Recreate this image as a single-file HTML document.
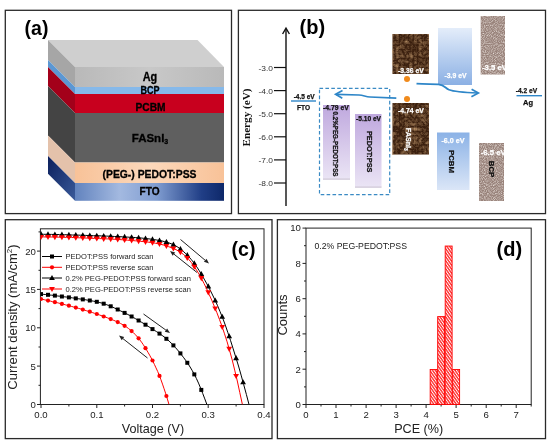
<!DOCTYPE html>
<html><head><meta charset="utf-8"><title>Figure</title>
<style>
html,body{margin:0;padding:0;background:#fff;}
svg{display:block;font-family:"Liberation Sans",sans-serif;filter:blur(0.45px);}
</style></head><body>
<svg width="550" height="448" viewBox="0 0 550 448">
<defs>
<clipPath id="clipc"><rect x="40.4" y="225" width="224" height="179.5"/></clipPath>
<clipPath id="clipbcp1"><rect x="480.7" y="16" width="24.3" height="58.5"/></clipPath>
<clipPath id="clipbcp2"><rect x="479" y="143" width="25" height="58"/></clipPath>
<pattern id="hatch" width="2.3" height="2.3" patternUnits="userSpaceOnUse" patternTransform="rotate(55)">
<rect width="2.3" height="2.3" fill="#fff"/><rect width="2.3" height="1.35" fill="#ff2a2a"/></pattern>
<linearGradient id="gag" x1="0" x2="1" y1="0" y2="0"><stop offset="0" stop-color="#b9b9b9"/><stop offset="0.5" stop-color="#c8c8c8"/><stop offset="1" stop-color="#b9b9b9"/></linearGradient>
<linearGradient id="gped" x1="0" x2="1" y1="0" y2="0"><stop offset="0" stop-color="#f8c298"/><stop offset="0.5" stop-color="#fcd8bb"/><stop offset="1" stop-color="#f8c298"/></linearGradient>
<linearGradient id="gfto" x1="0" x2="1" y1="0" y2="0"><stop offset="0" stop-color="#6283be"/><stop offset="0.3" stop-color="#a3b9e0"/><stop offset="0.55" stop-color="#7f9cd0"/><stop offset="0.85" stop-color="#203e86"/><stop offset="1" stop-color="#0e2869"/></linearGradient>
<linearGradient id="gftol" x1="0" x2="1" y1="0" y2="1"><stop offset="0" stop-color="#0b1f5c"/><stop offset="1" stop-color="#3a5a9a"/></linearGradient>
<linearGradient id="gpur" x1="0" x2="0" y1="0" y2="1"><stop offset="0" stop-color="#bfa8de"/><stop offset="1" stop-color="#ebe5f5"/></linearGradient>
<linearGradient id="gblu1" x1="0" x2="0" y1="0" y2="1"><stop offset="0" stop-color="#e4edfa"/><stop offset="1" stop-color="#8bb0e4"/></linearGradient>
<linearGradient id="gblu2" x1="0" x2="0" y1="0" y2="1"><stop offset="0" stop-color="#8bb2e6"/><stop offset="1" stop-color="#dbe6f7"/></linearGradient>
<filter id="brown" x="0" y="0" width="1" height="1"><feTurbulence type="turbulence" baseFrequency="0.22" numOctaves="3" seed="4"/><feColorMatrix type="matrix" values="0 0 0 0 0.52  0 0 0 0 0.31  0 0 0 0 0.15  0.9 0.7 0 0 -0.25"/></filter>
<filter id="speck" x="0" y="0" width="1" height="1"><feTurbulence type="fractalNoise" baseFrequency="0.9" numOctaves="1" seed="7"/><feColorMatrix type="matrix" values="0 0 0 0 0.86  0 0 0 0 0.80  0 0 0 0 0.76  2.0 0 0 0 -0.8"/></filter>
</defs>
<rect width="550" height="448" fill="#fff"/>
<g id="panel-a">
<rect x="5.3" y="10.3" width="226.2" height="203.3" fill="#fff" stroke="#2a2a2a" stroke-width="1.3"/>
<path d="M75,67 L48,40 L197.5,40 L224,67Z" fill="#cfcfcf"/>
<rect x="75" y="67" width="149" height="20" fill="url(#gag)"/>
<path d="M75,67 L48,40 L48,60 L75,87Z" fill="#a6a6a6"/>
<rect x="75" y="87" width="149" height="7" fill="#86b9ea"/>
<path d="M75,87 L48,60 L48,67 L75,94Z" fill="#5b97d3"/>
<rect x="75" y="94" width="149" height="19" fill="#c8001e"/>
<path d="M75,94 L48,67 L48,86 L75,113Z" fill="#a3001a"/>
<rect x="75" y="113" width="149" height="49.5" fill="#5f5f5f"/>
<path d="M75,113 L48,86 L48,135.5 L75,162.5Z" fill="#444444"/>
<rect x="75" y="162.5" width="149" height="20.5" fill="url(#gped)"/>
<path d="M75,162.5 L48,135.5 L48,156 L75,183Z" fill="#e4c2ab"/>
<rect x="75" y="183" width="149" height="17.80000000000001" fill="url(#gfto)"/>
<path d="M75,183 L48,156 L48,173.8 L75,200.8Z" fill="url(#gftol)"/>
<text x="150" y="80.5" text-anchor="middle" font-size="12.5" font-weight="bold" fill="#000" stroke="#000" stroke-width="0.3" textLength="14.5" lengthAdjust="spacingAndGlyphs">Ag</text>
<text x="150" y="93.5" text-anchor="middle" font-size="10" font-weight="bold" fill="#000" stroke="#000" stroke-width="0.3" textLength="19" lengthAdjust="spacingAndGlyphs">BCP</text>
<text x="150.5" y="111" text-anchor="middle" font-size="10.5" font-weight="bold" fill="#000" stroke="#000" stroke-width="0.3" textLength="30" lengthAdjust="spacingAndGlyphs">PCBM</text>
<text x="150" y="141.5" text-anchor="middle" font-size="11.5" font-weight="bold" fill="#000" stroke="#000" stroke-width="0.3">FASnI<tspan font-size="7" dy="2.5">3</tspan></text>
<text x="149.5" y="177.5" text-anchor="middle" font-size="11.5" font-weight="bold" fill="#000" stroke="#000" stroke-width="0.3" textLength="94" lengthAdjust="spacingAndGlyphs">(PEG-) PEDOT:PSS</text>
<text x="149.5" y="195" text-anchor="middle" font-size="11.5" font-weight="bold" fill="#000" stroke="#000" stroke-width="0.3" textLength="20" lengthAdjust="spacingAndGlyphs">FTO</text>
<text x="36.5" y="34.5" text-anchor="middle" font-size="19.5" font-weight="bold" fill="#000">(a)</text>
</g>
<g id="panel-b">
<rect x="238.4" y="10.3" width="307.1" height="203.3" fill="#fff" stroke="#2a2a2a" stroke-width="1.3"/>
<line x1="286" y1="29" x2="286" y2="206" stroke="#111" stroke-width="1.4"/>
<path d="M282.6,34 L286,28.2 L289.4,34" fill="none" stroke="#111" stroke-width="1.4" stroke-linejoin="miter"/>
<line x1="274" y1="67.5" x2="286" y2="67.5" stroke="#111" stroke-width="1.2"/>
<text x="273" y="70.6" text-anchor="end" font-size="7.8" fill="#333" textLength="14.5" lengthAdjust="spacingAndGlyphs">-3.0</text>
<line x1="274" y1="90.6" x2="286" y2="90.6" stroke="#111" stroke-width="1.2"/>
<text x="273" y="93.7" text-anchor="end" font-size="7.8" fill="#333" textLength="14.5" lengthAdjust="spacingAndGlyphs">-4.0</text>
<line x1="274" y1="113.7" x2="286" y2="113.7" stroke="#111" stroke-width="1.2"/>
<text x="273" y="116.8" text-anchor="end" font-size="7.8" fill="#333" textLength="14.5" lengthAdjust="spacingAndGlyphs">-5.0</text>
<line x1="274" y1="136.8" x2="286" y2="136.8" stroke="#111" stroke-width="1.2"/>
<text x="273" y="139.9" text-anchor="end" font-size="7.8" fill="#333" textLength="14.5" lengthAdjust="spacingAndGlyphs">-6.0</text>
<line x1="274" y1="159.9" x2="286" y2="159.9" stroke="#111" stroke-width="1.2"/>
<text x="273" y="163.0" text-anchor="end" font-size="7.8" fill="#333" textLength="14.5" lengthAdjust="spacingAndGlyphs">-7.0</text>
<line x1="274" y1="183.0" x2="286" y2="183.0" stroke="#111" stroke-width="1.2"/>
<text x="273" y="186.1" text-anchor="end" font-size="7.8" fill="#333" textLength="14.5" lengthAdjust="spacingAndGlyphs">-8.0</text>
<text transform="translate(250.3,117.5) rotate(-90)" text-anchor="middle" font-size="11" font-weight="bold" font-family="'Liberation Serif',serif" fill="#111" textLength="58" lengthAdjust="spacingAndGlyphs">Energy (eV)</text>
<line x1="291" y1="101" x2="316" y2="101" stroke="#2e86c8" stroke-width="1.4"/>
<text x="293.7" y="99" font-size="7.2" font-weight="bold" fill="#111" stroke="#111" stroke-width="0.25" text-anchor="start" textLength="21" lengthAdjust="spacingAndGlyphs">-4.5 eV</text>
<text x="297" y="110" font-size="7.2" font-weight="bold" fill="#111" stroke="#111" stroke-width="0.25" text-anchor="start" textLength="13" lengthAdjust="spacingAndGlyphs">FTO</text>
<line x1="516.5" y1="95.7" x2="542" y2="95.7" stroke="#2e86c8" stroke-width="1.4"/>
<text x="515.7" y="93.3" font-size="7.2" font-weight="bold" fill="#111" stroke="#111" stroke-width="0.25" text-anchor="start" textLength="21.5" lengthAdjust="spacingAndGlyphs">-4.2 eV</text>
<text x="523" y="105.3" font-size="7.2" font-weight="bold" fill="#111" stroke="#111" stroke-width="0.25" text-anchor="start" textLength="10" lengthAdjust="spacingAndGlyphs">Ag</text>
<rect x="319.5" y="88.4" width="70.2" height="106.3" fill="none" stroke="#3a8ac4" stroke-width="1.2" stroke-dasharray="3.6,2.3"/>
<rect x="323" y="105" width="27" height="74.5" fill="url(#gpur)"/>
<rect x="323" y="178.5" width="27" height="1.2" fill="#cfc8d6"/>
<rect x="355" y="114" width="26.5" height="73.5" fill="url(#gpur)"/>
<rect x="355" y="186.5" width="26.5" height="1.2" fill="#cfc8d6"/>
<text x="323" y="109.6" font-size="7.2" font-weight="bold" fill="#111" stroke="#111" stroke-width="0.25" text-anchor="start" textLength="25.7" lengthAdjust="spacingAndGlyphs">-4.79 eV</text>
<text x="356" y="121.3" font-size="7.2" font-weight="bold" fill="#111" stroke="#111" stroke-width="0.25" text-anchor="start" textLength="25" lengthAdjust="spacingAndGlyphs">-5.10 eV</text>
<text transform="translate(332.5,144) rotate(90)" text-anchor="middle" font-size="6.3" font-weight="bold" fill="#111" stroke="#111" stroke-width="0.25" textLength="65" lengthAdjust="spacingAndGlyphs">0.2%PEG-PEDOT:PSS</text>
<text transform="translate(366.8,151.7) rotate(90)" text-anchor="middle" font-size="8" font-weight="bold" fill="#111" stroke="#111" stroke-width="0.25" textLength="41.5" lengthAdjust="spacingAndGlyphs">PEDOT:PSS</text>
<rect x="392.5" y="34" width="36.5" height="40" fill="#3a1f0e"/>
<rect x="392.5" y="34" width="36.5" height="40" filter="url(#brown)"/>
<rect x="392.5" y="103" width="36.5" height="51.5" fill="#3a1f0e"/>
<rect x="392.5" y="103" width="36.5" height="51.5" filter="url(#brown)"/>
<text x="398" y="72.6" font-size="7.2" font-weight="bold" fill="#fff" stroke="#fff" stroke-width="0.25" text-anchor="start" textLength="25.7" lengthAdjust="spacingAndGlyphs">-3.36 eV</text>
<text x="398" y="112.6" font-size="7.2" font-weight="bold" fill="#fff" stroke="#fff" stroke-width="0.25" text-anchor="start" textLength="25.7" lengthAdjust="spacingAndGlyphs">-4.74 eV</text>
<text transform="translate(405.5,139.3) rotate(90)" text-anchor="middle" font-size="7.3" font-weight="bold" fill="#fff" stroke="#fff" stroke-width="0.25" textLength="23" lengthAdjust="spacingAndGlyphs">FASnI<tspan font-size="5" dy="1.5">3</tspan></text>
<circle cx="407" cy="79" r="3" fill="#f08a1c"/>
<circle cx="407" cy="99" r="3" fill="#f08a1c"/>
<rect x="438" y="28" width="34" height="57" fill="url(#gblu1)"/>
<rect x="437" y="132.5" width="32.5" height="57.5" fill="url(#gblu2)"/>
<text x="444.5" y="77.6" font-size="7.2" font-weight="bold" fill="#fff" stroke="#fff" stroke-width="0.25" text-anchor="start" textLength="22" lengthAdjust="spacingAndGlyphs">-3.9 eV</text>
<text x="441.5" y="143.3" font-size="7.2" font-weight="bold" fill="#fff" stroke="#fff" stroke-width="0.25" text-anchor="start" textLength="23" lengthAdjust="spacingAndGlyphs">-6.0 eV</text>
<text transform="translate(449.3,161.5) rotate(90)" text-anchor="middle" font-size="8" font-weight="bold" fill="#111" stroke="#111" stroke-width="0.25" textLength="23" lengthAdjust="spacingAndGlyphs">PCBM</text>
<rect x="480.7" y="16" width="24.3" height="58.5" fill="#98827a"/>
<rect x="480.7" y="16" width="24.3" height="58.5" filter="url(#speck)"/>
<rect x="479" y="143" width="25" height="58" fill="#98827a"/>
<rect x="479" y="143" width="25" height="58" filter="url(#speck)"/>
<g clip-path="url(#clipbcp1)"><text x="482" y="69.6" font-size="7.2" font-weight="bold" fill="#fff" stroke="#fff" stroke-width="0.25" text-anchor="start" textLength="25" lengthAdjust="spacingAndGlyphs">-3.5 eV</text></g>
<g clip-path="url(#clipbcp2)"><text x="480.7" y="154.6" font-size="7.2" font-weight="bold" fill="#fff" stroke="#fff" stroke-width="0.25" text-anchor="start" textLength="25" lengthAdjust="spacingAndGlyphs">-6.5 eV</text></g>
<text transform="translate(488.7,169) rotate(90)" text-anchor="middle" font-size="8" font-weight="bold" fill="#111" stroke="#111" stroke-width="0.25" textLength="16.5" lengthAdjust="spacingAndGlyphs">BCP</text>
<path d="M396.3,98.2 L370,97 C365.5,96.7 363.5,95.3 359,95 L336.2,94.3" fill="none" stroke="#2e86c8" stroke-width="1.7"/>
<path d="M342.5,90.6 L335.6,94.3 L342.3,98.2" fill="none" stroke="#2e86c8" stroke-width="1.7" stroke-linejoin="miter"/>
<path d="M416.5,83.6 C425,84.4 432,83.9 438.5,84.4 C445,85 445,88.2 449,89.8 C455,92.2 466,92.6 477.5,93" fill="none" stroke="#2e86c8" stroke-width="1.7"/>
<path d="M471.6,89.2 L478.4,93 L471.4,96.8" fill="none" stroke="#2e86c8" stroke-width="1.7" stroke-linejoin="miter"/>
<text x="312.3" y="33.5" text-anchor="middle" font-size="20" font-weight="bold" fill="#000">(b)</text>
</g>
<g id="panel-c">
<rect x="5.3" y="219.7" width="266.7" height="218.9" fill="#fff" stroke="#2a2a2a" stroke-width="1.3"/>
<rect x="40.4" y="228.8" width="223.6" height="175.7" fill="none" stroke="#222" stroke-width="1"/>
<line x1="37" y1="404.5" x2="40.5" y2="404.5" stroke="#222" stroke-width="1"/>
<text x="35.9" y="408.0" text-anchor="end" font-size="9.6" fill="#222">0</text>
<line x1="37" y1="366.1" x2="40.5" y2="366.1" stroke="#222" stroke-width="1"/>
<text x="35.9" y="369.6" text-anchor="end" font-size="9.6" fill="#222">5</text>
<line x1="37" y1="327.8" x2="40.5" y2="327.8" stroke="#222" stroke-width="1"/>
<text x="35.9" y="331.3" text-anchor="end" font-size="9.6" fill="#222">10</text>
<line x1="37" y1="289.4" x2="40.5" y2="289.4" stroke="#222" stroke-width="1"/>
<text x="35.9" y="292.9" text-anchor="end" font-size="9.6" fill="#222">15</text>
<line x1="37" y1="251.1" x2="40.5" y2="251.1" stroke="#222" stroke-width="1"/>
<text x="35.9" y="254.6" text-anchor="end" font-size="9.6" fill="#222">20</text>
<line x1="38.5" y1="385.3" x2="40.5" y2="385.3" stroke="#222" stroke-width="1"/>
<line x1="38.5" y1="347.0" x2="40.5" y2="347.0" stroke="#222" stroke-width="1"/>
<line x1="38.5" y1="308.6" x2="40.5" y2="308.6" stroke="#222" stroke-width="1"/>
<line x1="38.5" y1="270.3" x2="40.5" y2="270.3" stroke="#222" stroke-width="1"/>
<line x1="38.5" y1="231.9" x2="40.5" y2="231.9" stroke="#222" stroke-width="1"/>
<line x1="41.0" y1="404.5" x2="41.0" y2="408" stroke="#222" stroke-width="1"/>
<text x="41.0" y="418" text-anchor="middle" font-size="9.6" fill="#222">0.0</text>
<line x1="96.8" y1="404.5" x2="96.8" y2="408" stroke="#222" stroke-width="1"/>
<text x="96.8" y="418" text-anchor="middle" font-size="9.6" fill="#222">0.1</text>
<line x1="152.5" y1="404.5" x2="152.5" y2="408" stroke="#222" stroke-width="1"/>
<text x="152.5" y="418" text-anchor="middle" font-size="9.6" fill="#222">0.2</text>
<line x1="208.2" y1="404.5" x2="208.2" y2="408" stroke="#222" stroke-width="1"/>
<text x="208.2" y="418" text-anchor="middle" font-size="9.6" fill="#222">0.3</text>
<line x1="264.0" y1="404.5" x2="264.0" y2="408" stroke="#222" stroke-width="1"/>
<text x="264.0" y="418" text-anchor="middle" font-size="9.6" fill="#222">0.4</text>
<line x1="68.9" y1="404.5" x2="68.9" y2="406.5" stroke="#222" stroke-width="1"/>
<line x1="124.6" y1="404.5" x2="124.6" y2="406.5" stroke="#222" stroke-width="1"/>
<line x1="180.4" y1="404.5" x2="180.4" y2="406.5" stroke="#222" stroke-width="1"/>
<line x1="236.1" y1="404.5" x2="236.1" y2="406.5" stroke="#222" stroke-width="1"/>
<g clip-path="url(#clipc)">
<path d="M41.0,294.1 L43.1,294.3 L45.2,294.5 L47.3,294.7 L49.4,295.0 L51.5,295.2 L53.6,295.4 L55.7,295.7 L57.8,296.0 L59.9,296.2 L62.0,296.5 L64.1,296.8 L66.2,297.0 L68.3,297.3 L70.4,297.6 L72.5,297.9 L74.6,298.2 L76.7,298.5 L78.8,298.8 L80.9,299.1 L83.0,299.4 L85.1,299.7 L87.2,300.1 L89.3,300.4 L91.4,300.8 L93.5,301.2 L95.6,301.6 L97.7,302.0 L99.8,302.6 L101.9,303.1 L104.0,303.8 L106.1,304.5 L108.2,305.3 L110.3,306.1 L112.4,307.0 L114.5,308.0 L116.6,309.0 L118.7,310.0 L120.8,311.0 L122.9,312.0 L125.0,313.1 L127.1,314.1 L129.2,315.2 L131.3,316.4 L133.4,317.5 L135.5,318.7 L137.6,319.9 L139.7,321.2 L141.8,322.4 L143.9,323.7 L146.0,325.0 L148.1,326.3 L150.2,327.6 L152.3,328.9 L154.4,330.3 L156.5,331.6 L158.6,333.0 L160.7,334.4 L162.8,335.9 L164.9,337.5 L167.0,339.2 L169.1,341.1 L171.2,343.1 L173.3,345.2 L175.4,347.5 L177.5,349.9 L179.6,352.4 L181.7,355.1 L183.8,357.8 L185.9,360.7 L188.0,363.7 L190.1,367.0 L192.2,370.5 L194.3,374.3 L196.4,378.5 L198.5,383.1 L200.6,388.1 L202.7,393.4 L204.8,398.9 L206.9,404.5" fill="none" stroke="#000" stroke-width="1"/>
<rect x="39.0" y="292.1" width="4" height="4" fill="#000"/>
<rect x="46.0" y="292.8" width="4" height="4" fill="#000"/>
<rect x="52.9" y="293.6" width="4" height="4" fill="#000"/>
<rect x="59.9" y="294.5" width="4" height="4" fill="#000"/>
<rect x="66.9" y="295.4" width="4" height="4" fill="#000"/>
<rect x="73.8" y="296.4" width="4" height="4" fill="#000"/>
<rect x="80.8" y="297.4" width="4" height="4" fill="#000"/>
<rect x="87.8" y="298.5" width="4" height="4" fill="#000"/>
<rect x="94.8" y="299.8" width="4" height="4" fill="#000"/>
<rect x="101.7" y="301.7" width="4" height="4" fill="#000"/>
<rect x="108.7" y="304.3" width="4" height="4" fill="#000"/>
<rect x="115.7" y="307.5" width="4" height="4" fill="#000"/>
<rect x="122.6" y="310.9" width="4" height="4" fill="#000"/>
<rect x="129.6" y="314.5" width="4" height="4" fill="#000"/>
<rect x="136.6" y="318.5" width="4" height="4" fill="#000"/>
<rect x="143.5" y="322.7" width="4" height="4" fill="#000"/>
<rect x="150.5" y="327.1" width="4" height="4" fill="#000"/>
<rect x="157.5" y="331.6" width="4" height="4" fill="#000"/>
<rect x="164.4" y="336.8" width="4" height="4" fill="#000"/>
<rect x="171.4" y="343.4" width="4" height="4" fill="#000"/>
<rect x="178.4" y="351.4" width="4" height="4" fill="#000"/>
<rect x="185.3" y="360.8" width="4" height="4" fill="#000"/>
<rect x="192.3" y="372.4" width="4" height="4" fill="#000"/>
<rect x="199.3" y="387.9" width="4" height="4" fill="#000"/>
<path d="M41.0,299.0 L42.6,299.4 L44.2,299.7 L45.9,300.1 L47.5,300.5 L49.1,300.8 L50.7,301.2 L52.3,301.6 L54.0,302.0 L55.6,302.3 L57.2,302.7 L58.8,303.1 L60.4,303.5 L62.1,303.9 L63.7,304.3 L65.3,304.8 L66.9,305.2 L68.5,305.6 L70.2,306.0 L71.8,306.5 L73.4,306.9 L75.0,307.4 L76.6,307.8 L78.3,308.3 L79.9,308.7 L81.5,309.2 L83.1,309.7 L84.7,310.2 L86.4,310.7 L88.0,311.2 L89.6,311.7 L91.2,312.2 L92.8,312.7 L94.5,313.3 L96.1,313.8 L97.7,314.3 L99.3,314.9 L101.0,315.5 L102.6,316.0 L104.2,316.6 L105.8,317.2 L107.4,317.8 L109.1,318.5 L110.7,319.1 L112.3,319.8 L113.9,320.4 L115.5,321.1 L117.2,321.9 L118.8,322.6 L120.4,323.4 L122.0,324.3 L123.6,325.2 L125.3,326.2 L126.9,327.3 L128.5,328.5 L130.1,329.8 L131.7,331.2 L133.4,332.7 L135.0,334.3 L136.6,336.0 L138.2,337.9 L139.8,339.9 L141.5,342.1 L143.1,344.4 L144.7,346.9 L146.3,349.5 L147.9,352.2 L149.6,355.1 L151.2,358.0 L152.8,361.1 L154.4,364.4 L156.0,367.9 L157.7,371.5 L159.3,375.4 L160.9,379.6 L162.5,384.1 L164.1,388.8 L165.8,393.9 L167.4,399.1 L169.0,404.5" fill="none" stroke="#f00" stroke-width="1"/>
<circle cx="41.0" cy="299.0" r="2.1" fill="#f00"/>
<circle cx="48.0" cy="300.6" r="2.1" fill="#f00"/>
<circle cx="54.9" cy="302.2" r="2.1" fill="#f00"/>
<circle cx="61.9" cy="303.9" r="2.1" fill="#f00"/>
<circle cx="68.9" cy="305.7" r="2.1" fill="#f00"/>
<circle cx="75.8" cy="307.6" r="2.1" fill="#f00"/>
<circle cx="82.8" cy="309.6" r="2.1" fill="#f00"/>
<circle cx="89.8" cy="311.7" r="2.1" fill="#f00"/>
<circle cx="96.8" cy="314.0" r="2.1" fill="#f00"/>
<circle cx="103.7" cy="316.5" r="2.1" fill="#f00"/>
<circle cx="110.7" cy="319.1" r="2.1" fill="#f00"/>
<circle cx="117.7" cy="322.1" r="2.1" fill="#f00"/>
<circle cx="124.6" cy="325.8" r="2.1" fill="#f00"/>
<circle cx="131.6" cy="331.1" r="2.1" fill="#f00"/>
<circle cx="138.6" cy="338.3" r="2.1" fill="#f00"/>
<circle cx="145.5" cy="348.2" r="2.1" fill="#f00"/>
<circle cx="152.5" cy="360.5" r="2.1" fill="#f00"/>
<circle cx="159.5" cy="375.9" r="2.1" fill="#f00"/>
<circle cx="166.4" cy="396.0" r="2.1" fill="#f00"/>
<path d="M41.0,234.2 L43.6,234.3 L46.3,234.3 L48.9,234.4 L51.5,234.4 L54.2,234.5 L56.8,234.5 L59.4,234.6 L62.1,234.7 L64.7,234.7 L67.3,234.8 L70.0,234.9 L72.6,235.0 L75.2,235.0 L77.9,235.1 L80.5,235.2 L83.1,235.3 L85.8,235.4 L88.4,235.5 L91.0,235.6 L93.7,235.7 L96.3,235.7 L98.9,235.8 L101.6,235.9 L104.2,236.0 L106.8,236.1 L109.5,236.2 L112.1,236.3 L114.7,236.5 L117.4,236.6 L120.0,236.7 L122.6,236.8 L125.3,237.0 L127.9,237.1 L130.5,237.3 L133.2,237.4 L135.8,237.6 L138.4,237.8 L141.1,238.0 L143.7,238.3 L146.3,238.6 L149.0,238.9 L151.6,239.2 L154.2,239.6 L156.8,240.0 L159.5,240.5 L162.1,241.0 L164.7,241.7 L167.4,242.4 L170.0,243.3 L172.6,244.4 L175.3,245.7 L177.9,247.2 L180.5,249.1 L183.2,251.3 L185.8,253.7 L188.4,256.3 L191.1,259.3 L193.7,262.6 L196.3,266.2 L199.0,270.3 L201.6,274.6 L204.2,279.1 L206.9,283.9 L209.5,288.8 L212.1,294.0 L214.8,299.5 L217.4,305.3 L220.0,311.5 L222.7,318.1 L225.3,325.1 L227.9,332.7 L230.6,340.7 L233.2,348.9 L235.8,357.3 L238.5,366.0 L241.1,375.1 L243.7,384.6 L246.4,394.5 L249.0,404.5" fill="none" stroke="#000" stroke-width="1"/>
<path d="M38.1,236.2 L43.9,236.2 L41.0,231.1Z" fill="#000"/>
<path d="M45.1,236.4 L50.9,236.4 L48.0,231.3Z" fill="#000"/>
<path d="M52.0,236.5 L57.8,236.5 L54.9,231.4Z" fill="#000"/>
<path d="M59.0,236.7 L64.8,236.7 L61.9,231.6Z" fill="#000"/>
<path d="M66.0,236.9 L71.8,236.9 L68.9,231.8Z" fill="#000"/>
<path d="M72.9,237.1 L78.7,237.1 L75.8,232.0Z" fill="#000"/>
<path d="M79.9,237.3 L85.7,237.3 L82.8,232.2Z" fill="#000"/>
<path d="M86.9,237.5 L92.7,237.5 L89.8,232.4Z" fill="#000"/>
<path d="M93.8,237.8 L99.7,237.8 L96.8,232.7Z" fill="#000"/>
<path d="M100.8,238.0 L106.6,238.0 L103.7,232.9Z" fill="#000"/>
<path d="M107.8,238.3 L113.6,238.3 L110.7,233.2Z" fill="#000"/>
<path d="M114.8,238.6 L120.6,238.6 L117.7,233.5Z" fill="#000"/>
<path d="M121.7,238.9 L127.5,238.9 L124.6,233.8Z" fill="#000"/>
<path d="M128.7,239.3 L134.5,239.3 L131.6,234.2Z" fill="#000"/>
<path d="M135.7,239.8 L141.5,239.8 L138.6,234.7Z" fill="#000"/>
<path d="M142.6,240.5 L148.4,240.5 L145.5,235.4Z" fill="#000"/>
<path d="M149.6,241.4 L155.4,241.4 L152.5,236.3Z" fill="#000"/>
<path d="M156.6,242.5 L162.4,242.5 L159.5,237.4Z" fill="#000"/>
<path d="M163.5,244.1 L169.3,244.1 L166.4,239.0Z" fill="#000"/>
<path d="M170.5,246.7 L176.3,246.7 L173.4,241.6Z" fill="#000"/>
<path d="M177.5,251.0 L183.3,251.0 L180.4,245.9Z" fill="#000"/>
<path d="M184.4,257.2 L190.2,257.2 L187.3,252.1Z" fill="#000"/>
<path d="M191.4,265.4 L197.2,265.4 L194.3,260.3Z" fill="#000"/>
<path d="M198.4,276.1 L204.2,276.1 L201.3,271.0Z" fill="#000"/>
<path d="M205.4,288.4 L211.2,288.4 L208.3,283.3Z" fill="#000"/>
<path d="M212.3,302.5 L218.1,302.5 L215.2,297.4Z" fill="#000"/>
<path d="M219.3,318.8 L225.1,318.8 L222.2,313.7Z" fill="#000"/>
<path d="M226.3,338.3 L232.1,338.3 L229.2,333.2Z" fill="#000"/>
<path d="M233.2,360.2 L239.0,360.2 L236.1,355.1Z" fill="#000"/>
<path d="M240.2,384.3 L246.0,384.3 L243.1,379.2Z" fill="#000"/>
<path d="M41.0,236.9 L43.5,236.9 L46.1,237.0 L48.6,237.0 L51.2,237.0 L53.7,237.1 L56.3,237.1 L58.8,237.2 L61.4,237.2 L63.9,237.3 L66.5,237.4 L69.0,237.4 L71.6,237.5 L74.1,237.6 L76.7,237.7 L79.2,237.8 L81.8,237.9 L84.3,238.0 L86.9,238.1 L89.4,238.2 L92.0,238.3 L94.5,238.4 L97.1,238.5 L99.6,238.6 L102.2,238.7 L104.7,238.8 L107.3,238.9 L109.8,239.0 L112.4,239.2 L114.9,239.3 L117.5,239.5 L120.0,239.6 L122.6,239.8 L125.1,240.0 L127.7,240.2 L130.2,240.4 L132.8,240.6 L135.3,240.8 L137.9,241.0 L140.4,241.3 L143.0,241.6 L145.5,241.8 L148.1,242.1 L150.6,242.5 L153.2,242.8 L155.7,243.3 L158.3,243.8 L160.8,244.3 L163.4,245.0 L165.9,245.7 L168.4,246.6 L171.0,247.5 L173.5,248.5 L176.1,249.7 L178.6,251.1 L181.2,252.7 L183.7,254.6 L186.3,256.9 L188.8,259.5 L191.4,262.6 L193.9,266.1 L196.5,270.0 L199.0,274.1 L201.6,278.7 L204.1,283.6 L206.7,288.9 L209.2,294.5 L211.8,300.3 L214.3,306.3 L216.9,312.7 L219.4,319.3 L222.0,326.3 L224.5,333.8 L227.1,341.8 L229.6,350.5 L232.2,359.9 L234.7,370.1 L237.3,381.0 L239.8,392.6 L242.4,404.5" fill="none" stroke="#f00" stroke-width="1"/>
<path d="M38.1,234.9 L43.9,234.9 L41.0,240.0Z" fill="#f00"/>
<path d="M45.1,235.0 L50.9,235.0 L48.0,240.1Z" fill="#f00"/>
<path d="M52.0,235.1 L57.8,235.1 L54.9,240.2Z" fill="#f00"/>
<path d="M59.0,235.2 L64.8,235.2 L61.9,240.3Z" fill="#f00"/>
<path d="M66.0,235.4 L71.8,235.4 L68.9,240.5Z" fill="#f00"/>
<path d="M72.9,235.7 L78.7,235.7 L75.8,240.8Z" fill="#f00"/>
<path d="M79.9,235.9 L85.7,235.9 L82.8,241.0Z" fill="#f00"/>
<path d="M86.9,236.2 L92.7,236.2 L89.8,241.3Z" fill="#f00"/>
<path d="M93.8,236.4 L99.7,236.4 L96.8,241.5Z" fill="#f00"/>
<path d="M100.8,236.8 L106.6,236.8 L103.7,241.9Z" fill="#f00"/>
<path d="M107.8,237.1 L113.6,237.1 L110.7,242.2Z" fill="#f00"/>
<path d="M114.8,237.5 L120.6,237.5 L117.7,242.6Z" fill="#f00"/>
<path d="M121.7,238.0 L127.5,238.0 L124.6,243.1Z" fill="#f00"/>
<path d="M128.7,238.5 L134.5,238.5 L131.6,243.6Z" fill="#f00"/>
<path d="M135.7,239.1 L141.5,239.1 L138.6,244.2Z" fill="#f00"/>
<path d="M142.6,239.8 L148.4,239.8 L145.5,244.9Z" fill="#f00"/>
<path d="M149.6,240.7 L155.4,240.7 L152.5,245.8Z" fill="#f00"/>
<path d="M156.6,242.0 L162.4,242.0 L159.5,247.1Z" fill="#f00"/>
<path d="M163.5,243.9 L169.3,243.9 L166.4,249.0Z" fill="#f00"/>
<path d="M170.5,246.4 L176.3,246.4 L173.4,251.5Z" fill="#f00"/>
<path d="M177.5,250.2 L183.3,250.2 L180.4,255.3Z" fill="#f00"/>
<path d="M184.4,255.9 L190.2,255.9 L187.3,261.0Z" fill="#f00"/>
<path d="M191.4,264.7 L197.2,264.7 L194.3,269.8Z" fill="#f00"/>
<path d="M198.4,276.1 L204.2,276.1 L201.3,281.2Z" fill="#f00"/>
<path d="M205.4,290.3 L211.2,290.3 L208.3,295.4Z" fill="#f00"/>
<path d="M212.3,306.5 L218.1,306.5 L215.2,311.6Z" fill="#f00"/>
<path d="M219.3,324.9 L225.1,324.9 L222.2,330.0Z" fill="#f00"/>
<path d="M226.3,346.8 L232.1,346.8 L229.2,351.9Z" fill="#f00"/>
<path d="M233.2,374.0 L239.0,374.0 L236.1,379.1Z" fill="#f00"/>
</g>
<line x1="42" y1="256.5" x2="62" y2="256.5" stroke="#000" stroke-width="1"/>
<rect x="50.0" y="254.5" width="4" height="4" fill="#000"/>
<text x="65.5" y="259.2" font-size="7.4" textLength="88" lengthAdjust="spacingAndGlyphs" fill="#222">PEDOT:PSS forward scan</text>
<line x1="42" y1="267.3" x2="62" y2="267.3" stroke="#f00" stroke-width="1"/>
<circle cx="52.0" cy="267.3" r="2.1" fill="#f00"/>
<text x="65.5" y="270.0" font-size="7.4" textLength="88" lengthAdjust="spacingAndGlyphs" fill="#222">PEDOT:PSS reverse scan</text>
<line x1="42" y1="278" x2="62" y2="278" stroke="#000" stroke-width="1"/>
<path d="M49.1,280.0 L54.9,280.0 L52.0,274.9Z" fill="#000"/>
<text x="65.5" y="280.7" font-size="7.4" textLength="125.5" lengthAdjust="spacingAndGlyphs" fill="#222">0.2% PEG-PEDOT:PSS forward scan</text>
<line x1="42" y1="289" x2="62" y2="289" stroke="#f00" stroke-width="1"/>
<path d="M49.1,287.0 L54.9,287.0 L52.0,292.1Z" fill="#f00"/>
<text x="65.5" y="291.7" font-size="7.4" textLength="125.5" lengthAdjust="spacingAndGlyphs" fill="#222">0.2% PEG-PEDOT:PSS reverse scan</text>
<line x1="180.5" y1="239.5" x2="205.2" y2="260.3" stroke="#222" stroke-width="1"/><path d="M209.0,263.5 L203.9,261.8 L206.5,258.7Z" fill="#222"/>
<line x1="197" y1="272.5" x2="173.9" y2="254.1" stroke="#222" stroke-width="1"/><path d="M170.0,251.0 L175.2,252.6 L172.7,255.7Z" fill="#222"/>
<line x1="143.5" y1="314" x2="165.9" y2="330.1" stroke="#222" stroke-width="1"/><path d="M170.0,333.0 L164.8,331.7 L167.1,328.5Z" fill="#222"/>
<line x1="147.5" y1="358" x2="122.9" y2="338.6" stroke="#222" stroke-width="1"/><path d="M119.0,335.5 L124.2,337.0 L121.7,340.2Z" fill="#222"/>
<text x="243.5" y="255.5" text-anchor="middle" font-size="19.5" font-weight="bold" fill="#000">(c)</text>
<text x="153" y="432.5" text-anchor="middle" font-size="12.6" fill="#222">Voltage (V)</text>
<text transform="translate(16.8,317) rotate(-90)" text-anchor="middle" font-size="13" fill="#222">Current density (mA/cm<tspan font-size="8" dy="-5">2</tspan><tspan dy="5">)</tspan></text>
</g>
<g id="panel-d">
<rect x="277.4" y="219.7" width="268.1" height="218.9" fill="#fff" stroke="#2a2a2a" stroke-width="1.3"/>
<rect x="306" y="228.1" width="225.2" height="176.4" fill="none" stroke="#222" stroke-width="1"/>
<line x1="302.5" y1="404.5" x2="306" y2="404.5" stroke="#222" stroke-width="1"/>
<text x="300.8" y="407.8" text-anchor="end" font-size="9.6" fill="#222">0</text>
<line x1="302.5" y1="369.2" x2="306" y2="369.2" stroke="#222" stroke-width="1"/>
<text x="300.8" y="372.5" text-anchor="end" font-size="9.6" fill="#222">2</text>
<line x1="302.5" y1="333.9" x2="306" y2="333.9" stroke="#222" stroke-width="1"/>
<text x="300.8" y="337.2" text-anchor="end" font-size="9.6" fill="#222">4</text>
<line x1="302.5" y1="298.7" x2="306" y2="298.7" stroke="#222" stroke-width="1"/>
<text x="300.8" y="302.0" text-anchor="end" font-size="9.6" fill="#222">6</text>
<line x1="302.5" y1="263.4" x2="306" y2="263.4" stroke="#222" stroke-width="1"/>
<text x="300.8" y="266.7" text-anchor="end" font-size="9.6" fill="#222">8</text>
<line x1="302.5" y1="228.1" x2="306" y2="228.1" stroke="#222" stroke-width="1"/>
<text x="300.8" y="231.4" text-anchor="end" font-size="9.6" fill="#222">10</text>
<line x1="304" y1="386.9" x2="306" y2="386.9" stroke="#222" stroke-width="1"/>
<line x1="304" y1="351.6" x2="306" y2="351.6" stroke="#222" stroke-width="1"/>
<line x1="304" y1="316.3" x2="306" y2="316.3" stroke="#222" stroke-width="1"/>
<line x1="304" y1="281.0" x2="306" y2="281.0" stroke="#222" stroke-width="1"/>
<line x1="304" y1="245.7" x2="306" y2="245.7" stroke="#222" stroke-width="1"/>
<line x1="306.0" y1="404.5" x2="306.0" y2="408" stroke="#222" stroke-width="1"/>
<text x="306.0" y="418" text-anchor="middle" font-size="9.6" fill="#222">0</text>
<line x1="336.0" y1="404.5" x2="336.0" y2="408" stroke="#222" stroke-width="1"/>
<text x="336.0" y="418" text-anchor="middle" font-size="9.6" fill="#222">1</text>
<line x1="366.1" y1="404.5" x2="366.1" y2="408" stroke="#222" stroke-width="1"/>
<text x="366.1" y="418" text-anchor="middle" font-size="9.6" fill="#222">2</text>
<line x1="396.1" y1="404.5" x2="396.1" y2="408" stroke="#222" stroke-width="1"/>
<text x="396.1" y="418" text-anchor="middle" font-size="9.6" fill="#222">3</text>
<line x1="426.1" y1="404.5" x2="426.1" y2="408" stroke="#222" stroke-width="1"/>
<text x="426.1" y="418" text-anchor="middle" font-size="9.6" fill="#222">4</text>
<line x1="456.1" y1="404.5" x2="456.1" y2="408" stroke="#222" stroke-width="1"/>
<text x="456.1" y="418" text-anchor="middle" font-size="9.6" fill="#222">5</text>
<line x1="486.2" y1="404.5" x2="486.2" y2="408" stroke="#222" stroke-width="1"/>
<text x="486.2" y="418" text-anchor="middle" font-size="9.6" fill="#222">6</text>
<line x1="516.2" y1="404.5" x2="516.2" y2="408" stroke="#222" stroke-width="1"/>
<text x="516.2" y="418" text-anchor="middle" font-size="9.6" fill="#222">7</text>
<line x1="321.0" y1="404.5" x2="321.0" y2="406.5" stroke="#222" stroke-width="1"/>
<line x1="351.0" y1="404.5" x2="351.0" y2="406.5" stroke="#222" stroke-width="1"/>
<line x1="381.1" y1="404.5" x2="381.1" y2="406.5" stroke="#222" stroke-width="1"/>
<line x1="411.1" y1="404.5" x2="411.1" y2="406.5" stroke="#222" stroke-width="1"/>
<line x1="441.1" y1="404.5" x2="441.1" y2="406.5" stroke="#222" stroke-width="1"/>
<line x1="471.2" y1="404.5" x2="471.2" y2="406.5" stroke="#222" stroke-width="1"/>
<line x1="501.2" y1="404.5" x2="501.2" y2="406.5" stroke="#222" stroke-width="1"/>
<line x1="531.2" y1="404.5" x2="531.2" y2="406.5" stroke="#222" stroke-width="1"/>
<rect x="430.17" y="369.52" width="6.91" height="34.98" fill="url(#hatch)" stroke="#f00" stroke-width="0.9"/>
<rect x="437.68" y="316.60" width="6.91" height="87.90" fill="url(#hatch)" stroke="#f00" stroke-width="0.9"/>
<rect x="445.19" y="246.04" width="6.91" height="158.46" fill="url(#hatch)" stroke="#f00" stroke-width="0.9"/>
<rect x="452.70" y="369.52" width="6.91" height="34.98" fill="url(#hatch)" stroke="#f00" stroke-width="0.9"/>
<text x="314.5" y="249" font-size="8.3" textLength="92.5" lengthAdjust="spacingAndGlyphs" fill="#222">0.2% PEG-PEDOT:PSS</text>
<text x="509.3" y="255.5" text-anchor="middle" font-size="20" font-weight="bold" fill="#000">(d)</text>
<text x="418.7" y="432.5" text-anchor="middle" font-size="12.6" fill="#222">PCE (%)</text>
<text transform="translate(286.7,315) rotate(-90)" text-anchor="middle" font-size="13" fill="#222">Counts</text>
</g>
</svg>
</body></html>
